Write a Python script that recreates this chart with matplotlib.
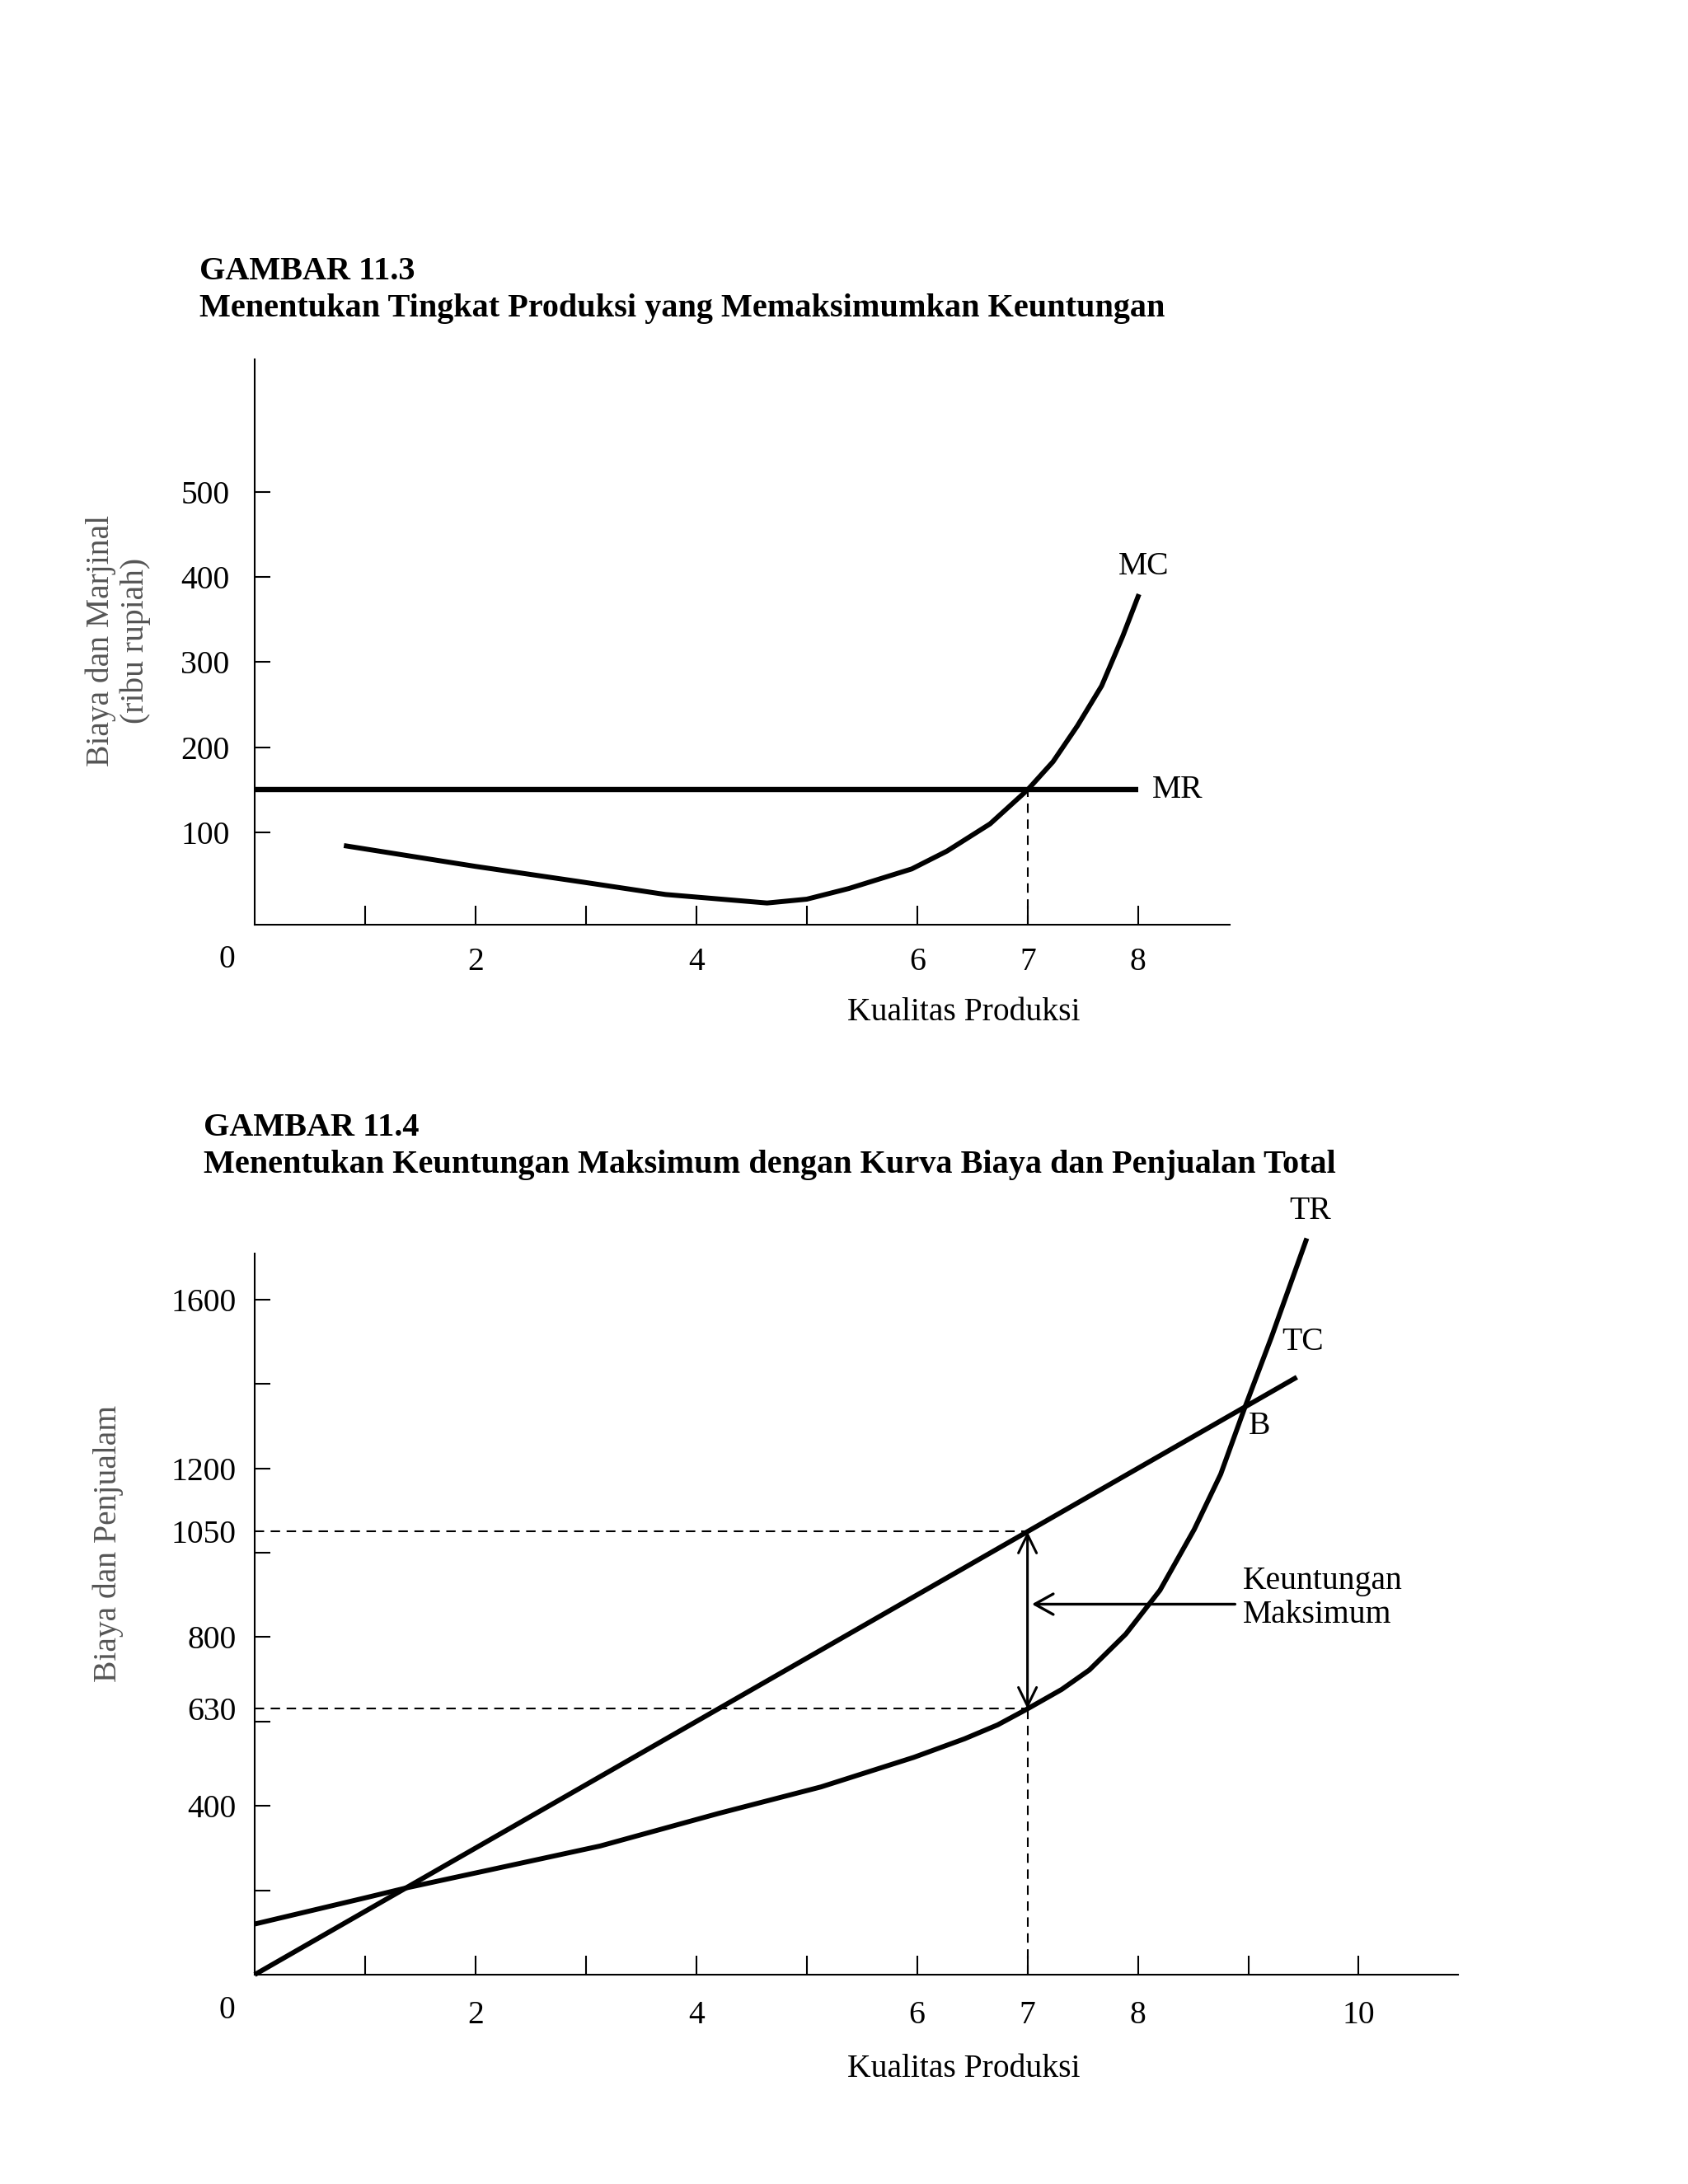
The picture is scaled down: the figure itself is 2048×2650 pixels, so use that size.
import numpy as np
import matplotlib
matplotlib.use("Agg")
import matplotlib.pyplot as plt

plt.rcParams["font.family"] = ["Liberation Serif", "DejaVu Serif"]

W, H = 2048, 2650
FS = 28.5
GREY = "#555555"

# ---- Gambar 11.3 : MC / MR ----
q_ticks_top = [1, 2, 3, 4, 5, 6, 7, 8]
q_labels_top = ["", "2", "", "4", "", "6", "7", "8"]
v_ticks_top = [100, 200, 300, 400, 500]
v_labels_top = ["100", "200", "300", "400", "500"]
mc_q = [0.83, 2.0, 3.0, 3.72, 4.64, 5.0, 5.38, 5.95, 6.27, 6.66, 7.0, 7.23, 7.45, 7.67, 7.86, 8.0]
mc_v = [84, 60, 41, 27, 17, 21.5, 34, 57, 78, 110, 150, 183, 225, 272, 330, 377]
mr_q = [0, 8]
mr_v = [150, 150]
q_opt = 7

# ---- Gambar 11.4 : total curves ----
q_ticks_bot = [1, 2, 3, 4, 5, 6, 7, 8, 9, 10]
q_labels_bot = ["", "2", "", "4", "", "6", "7", "8", "", "10"]
v_ticks_bot = [200, 400, 600, 800, 1000, 1200, 1400, 1600]
v_labels_bot = ["", "400", "", "800", "", "1200", "", "1600"]
v_marks_bot = [630, 1050]
line_q = [0, 9.44]            # straight line (labelled TC in the figure)
line_v = [0, 1416]
curve_q = [0, 1.0, 1.38, 2.0, 3.13, 4.20, 5.13, 5.97, 6.43, 6.73, 7.0, 7.31, 7.56,
           7.89, 8.20, 8.51, 8.75, 8.97, 9.21, 9.53]
curve_v = [120, 182, 206, 241, 305, 382, 445, 515, 559, 592, 630, 676, 722,
           807, 911, 1055, 1186, 1345, 1511, 1745]
profit_lo, profit_hi = 630, 1050


def box(x0, y0, x1, y1):
    return [x0 / W, 1 - y1 / H, (x1 - x0) / W, (y1 - y0) / H]


def style_axes(ax, xpad, ypad):
    for s in ["top", "right"]:
        ax.spines[s].set_visible(False)
    for s in ["left", "bottom"]:
        ax.spines[s].set_linewidth(1.5)
    ax.tick_params(axis="x", direction="in", length=16.5, width=1.5, pad=xpad, labelsize=FS)
    ax.tick_params(axis="y", direction="in", length=14, width=1.5, pad=ypad, labelsize=FS)
    ax.annotate("0", xy=(0, 0), xycoords="axes fraction", xytext=(-24.5, -31),
                textcoords="offset points", ha="center", va="center", fontsize=FS)


fig = plt.figure(figsize=(W / 100, H / 100), dpi=100)

# ---------- top chart ----------
ax1 = fig.add_axes(box(309, 436, 1492, 1121.7))
ax1.set_xlim(0, 8.83)
ax1.set_ylim(-8.2, 655.6)
ax1.set_xticks(q_ticks_top, q_labels_top)
ax1.set_yticks(v_ticks_top, v_labels_top)
style_axes(ax1, 20, 22)

ax1.plot(mr_q, mr_v, color="black", lw=4.6, solid_capstyle="butt")
ax1.plot(mc_q, mc_v, color="black", lw=4.3, solid_joinstyle="round")
ax1.plot([q_opt, q_opt], [-8.2, mr_v[0]], color="black", lw=1.5, dashes=(5.5, 3.8))
ax1.text(8.05, 412, "MC", fontsize=FS, ha="center", va="center")
ax1.text(8.13, 150, "MR", fontsize=FS, ha="left", va="center")

fig.text(242 / W, 1 - 339 / H, "GAMBAR 11.3", fontsize=29, fontweight="bold", va="baseline")
fig.text(242 / W, 1 - 384 / H, "Menentukan Tingkat Produksi yang Memaksimumkan Keuntungan",
         fontsize=29, fontweight="bold", va="baseline")
fig.text(122 / W, 1 - 777 / H, "Biaya dan Marjinal", rotation=90, fontsize=FS,
         color=GREY, ha="center", va="center")
fig.text(164 / W, 1 - 777 / H, "(ribu rupiah)", rotation=90, fontsize=FS,
         color=GREY, ha="center", va="center")
fig.text(1169 / W, 1 - 1229 / H, "Kualitas Produksi", fontsize=FS, ha="center", va="center")

# ---------- bottom chart ----------
ax2 = fig.add_axes(box(309, 1521, 1769, 2396))
ax2.set_xlim(0, 10.9)
ax2.set_ylim(0, 1709)
ax2.set_xticks(q_ticks_bot, q_labels_bot)
ax2.set_yticks(v_ticks_bot, v_labels_bot)
ax2.set_yticks(v_marks_bot, [str(v) for v in v_marks_bot], minor=True)
style_axes(ax2, 22, 16)
ax2.tick_params(axis="y", which="minor", length=0, pad=16, labelsize=FS)

ax2.plot(line_q, line_v, color="black", lw=4.3, solid_capstyle="butt", clip_on=False)
ax2.plot(curve_q, curve_v, color="black", lw=4.3, solid_capstyle="butt",
         solid_joinstyle="round", clip_on=False)

dash = dict(color="black", lw=1.5, dashes=(5.5, 3.8))
ax2.plot([0, q_opt], [profit_hi, profit_hi], **dash)
ax2.plot([0, q_opt], [profit_lo, profit_lo], **dash)
ax2.plot([q_opt, q_opt], [0, profit_lo], **dash)

ax2.annotate("", xy=(q_opt, profit_hi), xytext=(q_opt, profit_lo),
             arrowprops=dict(arrowstyle="<->,head_length=0.45,head_width=0.22",
                             lw=2.2, color="black", shrinkA=0, shrinkB=0,
                             mutation_scale=36))
ax2.annotate("", xy=(7.04, 878), xytext=(8.88, 878),
             arrowprops=dict(arrowstyle="->,head_length=0.45,head_width=0.25",
                             lw=2.4, color="black", shrinkA=0, shrinkB=0,
                             mutation_scale=36))
ax2.text(8.95, 892, "Keuntungan\nMaksimum", fontsize=FS, ha="left", va="center",
         linespacing=1.15)

ax2.text(9.56, 1810, "TR", fontsize=FS, ha="center", va="center")
ax2.text(9.49, 1500, "TC", fontsize=FS, ha="center", va="center")
ax2.text(9.1, 1300, "B", fontsize=FS, ha="center", va="center")

fig.text(247 / W, 1 - 1378 / H, "GAMBAR 11.4", fontsize=29, fontweight="bold", va="baseline")
fig.text(247 / W, 1 - 1423 / H, "Menentukan Keuntungan Maksimum dengan Kurva Biaya dan Penjualan Total",
         fontsize=29, fontweight="bold", va="baseline")
fig.text(131 / W, 1 - 1873 / H, "Biaya dan Penjualam", rotation=90, fontsize=FS,
         color=GREY, ha="center", va="center")
fig.text(1169 / W, 1 - 2510 / H, "Kualitas Produksi", fontsize=FS, ha="center", va="center")

fig.savefig("out.png", dpi=100)
